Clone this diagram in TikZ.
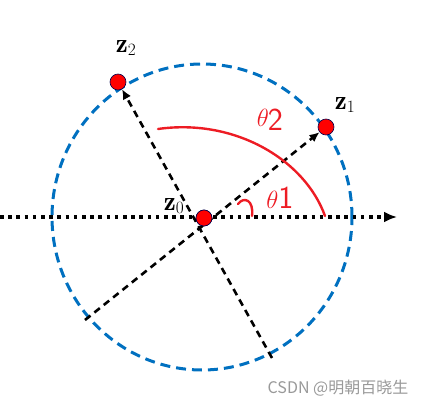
\documentclass[tikz,border=0pt]{standalone}
\usepackage{fontspec}
\newfontfamily\cjk{Noto Sans CJK SC}
\usetikzlibrary{arrows.meta}
\definecolor{orbit}{RGB}{0,112,192}
\definecolor{angle}{RGB}{237,28,36}
\tikzstyle{point}=[circle, minimum size=16pt, inner sep=0pt, fill=red, draw=black!70!blue, line width=0.6pt]
\tikzset{vec/.style={-{Latex[length=10pt,width=9pt]}, line width=2.6pt, dash pattern=on 7pt off 5pt}}
\tikzset{axis/.style={-{Latex[length=13pt,width=11pt]}, line width=3.6pt, dash pattern=on 3.6pt off 4.6pt}}
\tikzset{hand/.style={color=angle, line width=2.4pt, line cap=round}}
\tikzset{zlabel/.style={font=\fontsize{27}{27}\selectfont}}

\begin{document}
\begin{tikzpicture}[x=1pt,y=-1pt]
  \useasboundingbox (0,0) rectangle (440,407);
  \draw[orbit, line width=3pt, dash pattern=on 10pt off 6pt] (202,217) ellipse [x radius=150pt, y radius=153pt];

  \coordinate (ax0) at (0,217);
  \coordinate (ax1) at (397,217);
  \coordinate (e1) at (85,320);
  \coordinate (e2) at (272,358);
  \draw[axis] (ax0) -- (ax1);

  \draw (204,218) node[point] (z0) {};
  \draw (326,127) node[point] (z1) {};
  \draw (118,82) node[point] (z2) {};

  \draw[vec] (e1) -- (z1);
  \draw[vec] (e2) -- (z2);
  \draw (204,218) node[point] {};

  %% labels
  \draw (z0) ++(-30,-12) node[zlabel] {$\mathbf{z}_0$};
  \draw (z1) ++(19,-22) node[zlabel] {$\mathbf{z}_1$};
  \draw (z2) ++(8,-34) node[zlabel] {$\mathbf{z}_2$};

  %% angles
  \draw[hand] (158,129) .. controls (235,118) and (305,160) .. (325,216);
  \draw[hand] (238,204) .. controls (244,196) and (254,200) .. (252,216);
  \draw (270,120) node[text=angle] {\fontsize{32}{32}\selectfont $\theta$\kern-1pt\raisebox{-4pt}{\sffamily 2}};
  \draw (280,198) node[text=angle] {\fontsize{32}{32}\selectfont $\theta$\kern0pt{\sffamily 1}};

  \draw (338,388) node[text=black!40] (mark) {\fontsize{16}{16}\selectfont\cjk CSDN @明朝百晓生};
\end{tikzpicture}
\end{document}
